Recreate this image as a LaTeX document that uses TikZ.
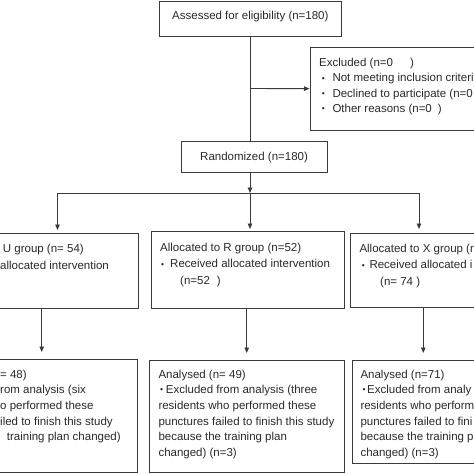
\documentclass[tikz,border=0pt]{standalone}
\usepackage{fontspec}
\setmainfont{Liberation Sans}
\usepackage{xcolor}
\usepackage{tikz}
\usetikzlibrary{arrows.meta,positioning}
\definecolor{fline}{HTML}{3A3A3A}
\definecolor{ftext}{HTML}{2A2A2A}
\newcommand{\bul}[1]{\makebox[#1][l]{\raisebox{0.8pt}{\fontsize{8.5}{8.5}\selectfont\textbullet}}}

\begin{document}
\begin{tikzpicture}[x=1pt,y=-1pt,
    box/.style={draw=fline,line width=0.9pt,inner sep=0pt,anchor=north west},
    txt/.style={anchor=base west,inner sep=0pt,align=left,text=ftext,
                font=\fontsize{11.5}{15.7}\selectfont},
    ln/.style={draw=fline,line width=0.9pt},
    arr/.style={ln,-{Triangle[length=5.5pt,width=4.5pt]}}]

      \fill[white] (0,0) rectangle (474,474);
      \useasboundingbox (0,0) rectangle (474,474);

      % screening (text nodes sit on the baseline of their last line)
      \node[box,minimum width=182pt,minimum height=35.5pt] (assess) at (159,0.5) {};
      \node[txt] (assessT) at (172,19.5) {Assessed for eligibility (n=180)};

      \node[box,minimum width=190pt,minimum height=83pt] (excl) at (310,47) {};
      \node[txt,font=\fontsize{11.5}{15.3}\selectfont] (exclT) at (319,112.4) {
        Excluded (n=0\hspace{17pt})\\
        \hspace*{2.7pt}\bul{10.6pt}Not meeting inclusion criteri\\
        \hspace*{2.7pt}\bul{10.6pt}Declined to participate (n=0\\
        \hspace*{2.7pt}\bul{10.6pt}Other reasons (n=0\hspace{6pt})
      };

      \node[box,minimum width=146pt,minimum height=31pt] (rand) at (181,141) {};
      \node[txt] (randT) at (200,160) {Randomized (n=180)};

      % allocation
      \node[box,minimum width=158pt,minimum height=75pt] (grpU) at (-20,233) {};
      \node[txt,font=\fontsize{11.5}{16.3}\selectfont] (grpUT) at (0,269) {
        \hspace*{2.7pt}U group (n= 54)\\
        allocated intervention
      };

      \node[box,minimum width=193pt,minimum height=77pt] (grpR) at (151,231) {};
      \node[txt,font=\fontsize{11.5}{16.2}\selectfont] (grpRT) at (160,284.1) {
        Allocated to R group (n=52)\\
        \hspace*{1pt}\bul{9pt}Received allocated intervention\\
        \hspace*{20pt}(n=52\hspace{7pt})
      };

      \node[box,minimum width=150pt,minimum height=74pt] (grpX) at (350,233) {};
      \node[txt,font=\fontsize{11.5}{16.2}\selectfont] (grpXT) at (359.3,285.1) {
        Allocated to X group (n\\
        \hspace*{2.4pt}\bul{7.6pt}Received allocated i\\
        \hspace*{20.7pt}(n= 74 )
      };

      % analysis
      \node[box,minimum width=157pt,minimum height=113pt] (anU) at (-20,359) {};
      \node[txt] (anUT) at (0,440.8) {
        = 48)\\
        rom analysis (six\\
        o performed these\\
        iled to finish this study\\
        \hspace*{6.7pt}training plan changed)
      };

      \node[box,minimum width=195pt,minimum height=112pt] (anR) at (149,360) {};
      \node[txt] (anRT) at (158.3,456.5) {
        Analysed (n= 49)\\
        \hspace*{1.7pt}\bul{5.7pt}Excluded from analysis (three\\
        residents who performed these\\
        punctures failed to finish this study\\
        because the training plan\\
        changed) (n=3)
      };

      \node[box,minimum width=148pt,minimum height=103pt] (anX) at (352,360) {};
      \node[txt] (anXT) at (360.3,456.5) {
        Analysed (n=71)\\
        \hspace*{2pt}\bul{4.7pt}Excluded from analy\\
        residents who perform\\
        punctures failed to fini\\
        because the training p\\
        changed) (n=3)
      };

      % connectors
      \coordinate (exj) at (250,88.5);
      \coordinate (split) at (250,193);
      \coordinate (splitU) at (57.5,193);
      \coordinate (splitX) at (419,193);
      \coordinate (dU) at (41.7,0);
      \coordinate (dR) at (246.7,0);
      \coordinate (dX) at (423.3,0);

      \draw[ln] (assess.south) -- (assess.south |- rand.north);
      \draw[arr,shorten >=0.5pt] (exj) -- (excl);
      \draw[arr] (rand.south -| split) -- (split);
      \draw[ln] (splitU) -- (splitX);
      \draw[arr,shorten >=2pt] (split) -- (split |- grpR.north);
      \draw[arr,shorten >=3pt] (splitU) -- (splitU |- grpU.north);
      \draw[arr,shorten >=4pt] (splitX) -- (splitX |- grpX.north);
      \draw[arr,shorten >=7pt] (grpU.south -| dU) -- (anU.north -| dU);
      \draw[arr,shorten >=7pt] (grpR.south -| dR) -- (anR.north -| dR);
      \draw[arr,shorten >=7pt] (grpX.south -| dX) -- (anX.north -| dX);

    \end{tikzpicture}
\end{document}
